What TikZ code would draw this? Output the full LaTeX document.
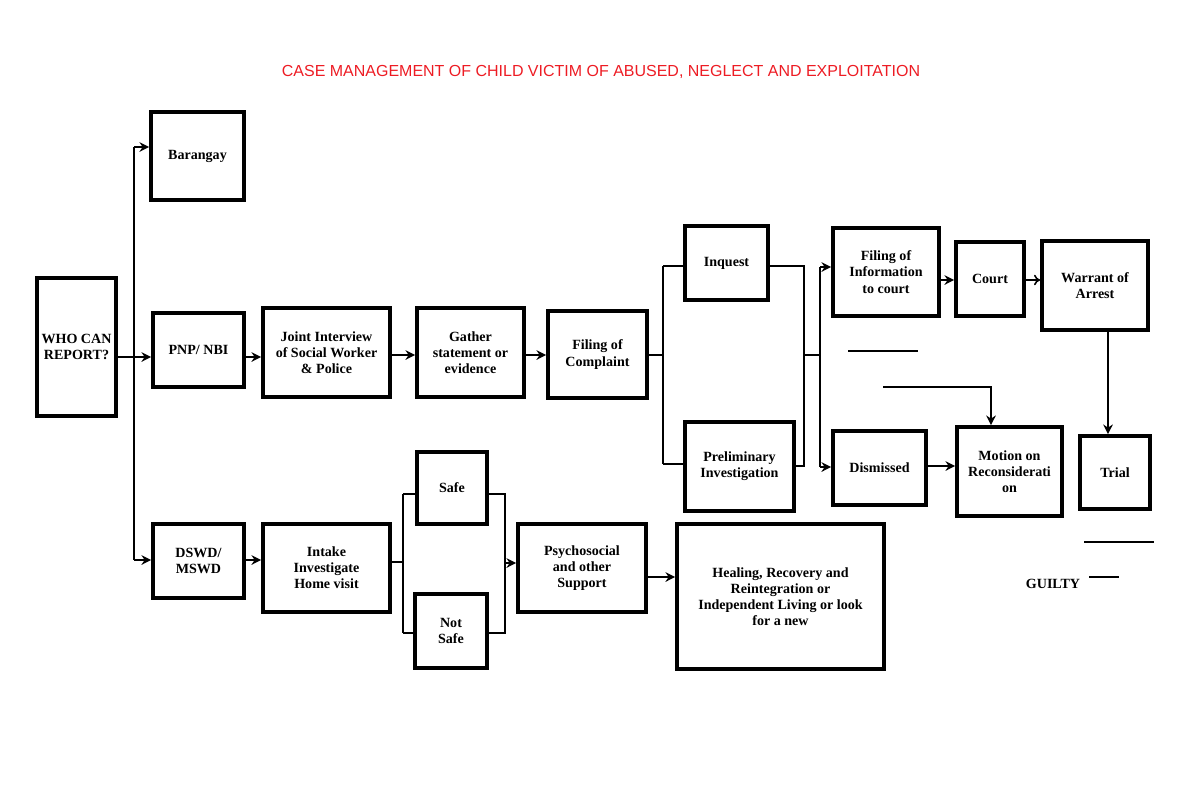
\documentclass[tikz,border=0pt]{standalone}
\usepackage{fontspec}
\setmainfont{Liberation Serif}
\newfontfamily\titlefont{Liberation Sans}
\usetikzlibrary{arrows.meta}
\definecolor{titlered}{RGB}{237,28,36}
\tikzset{
  x=0.02cm, y=-0.02cm,
  box/.style={draw, line width=2.1pt, inner sep=0pt, align=center,
    font=\fontsize{8}{9.2}\selectfont\bfseries},
  conn/.style={line width=1.5pt},
  arr/.style={conn, -{Stealth[length=5.5pt,width=5.5pt]}},
  thinarr/.style={line width=0.9pt, -{To[length=3.5pt,width=6pt]}}
}
\newcommand\bx[6]{\node[box, minimum width={(#4-#2)*0.02cm}, minimum height={(#5-#3)*0.02cm}] (#1) at ({(#2+#4)/2},{(#3+#5)/2}) {#6};}
\begin{document}
\begin{tikzpicture}
\useasboundingbox (0,0) rectangle (1200,785);
\node[font=\titlefont\fontsize{9.1}{10}\selectfont, text=titlered] (title) at (601,72) {CASE MANAGEMENT OF CHILD VICTIM OF ABUSED, NEGLECT AND EXPLOITATION};

\bx{who}{37}{278}{116}{416}{WHO CAN\\REPORT?}
\bx{bar}{151}{112}{244}{200}{Barangay}
\bx{pnp}{153}{313}{244}{387}{PNP/ NBI}
\bx{joint}{263}{308}{390}{397}{Joint Interview\\of Social Worker\\\& Police}
\bx{gath}{417}{308}{524}{397}{Gather\\statement or\\evidence}
\bx{fc}{548}{311}{647}{398}{Filing of\\Complaint}
\bx{inq}{685}{226}{768}{300}{Inquest}
\bx{prel}{685}{422}{794}{511}{Preliminary\\Investigation}
\bx{fi}{833}{228}{939}{316}{Filing of\\Information\\to court}
\bx{court}{956}{242}{1024}{316}{Court}
\bx{war}{1042}{241}{1148}{330}{Warrant of\\Arrest}
\bx{dis}{833}{431}{926}{505}{Dismissed}
\bx{mot}{957}{427}{1062}{516}{Motion on\\Reconsiderati\\on}
\bx{trial}{1080}{436}{1150}{509}{Trial}
\bx{dswd}{153}{524}{244}{598}{DSWD/\\MSWD}
\bx{intk}{263}{524}{390}{612}{Intake\\Investigate\\Home visit}
\bx{safe}{417}{452}{487}{524}{Safe}
\bx{nsafe}{415}{594}{487}{668}{Not\\Safe}
\bx{psy}{518}{524}{646}{612}{Psychosocial\\and other\\Support}
\bx{heal}{677}{524}{884}{669}{Healing, Recovery and\\Reintegration or\\Independent Living or look\\for a new}

% trunk from WHO CAN REPORT
\coordinate (tr) at (134,357);
\coordinate (tb) at (134,147);
\coordinate (td) at (134,560);
\draw[conn] (who.east |- tr) -- (tr);
\draw[conn] (tb) -- (td);
\draw[arr] (tb) -- (tb -| bar.west);
\draw[arr] (tr) -- (tr -| pnp.west);
\draw[arr] (td) -- (td -| dswd.west);

% police line
\coordinate (m1) at (0,357);
\coordinate (m2) at (0,355);
\draw[arr] (pnp.east |- m1) -- (joint.west |- m1);
\draw[arr] (joint.east |- m2) -- (gath.west |- m2);
\draw[arr] (gath.east |- m2) -- (fc.west |- m2);

% split to inquest / preliminary
\coordinate (s0) at (663,355);
\coordinate (s1) at (663,266);
\coordinate (s2) at (663,464);
\draw[conn] (fc.east |- s0) -- (s0);
\draw[conn] (s1) -- (s2);
\draw[conn] (s1) -- (s1 -| inq.west);
\draw[conn] (s2) -- (s2 -| prel.west);

% merge
\coordinate (r1) at (804,266);
\coordinate (r2) at (804,466);
\coordinate (r0) at (804,355);
\draw[conn] (inq.east |- r1) -- (r1) -- (r2) -- (prel.east |- r2);
\coordinate (q0) at (820,355);
\coordinate (q1) at (820,267);
\coordinate (q2) at (820,467);
\draw[conn] (r0) -- (q0);
\draw[conn] (q1) -- (q2);
\draw[arr] (q1) -- (q1 -| fi.west);
\draw[arr] (q2) -- (q2 -| dis.west);

% court line
\coordinate (c0) at (0,280);
\draw[arr] (fi.east |- c0) -- (court.west |- c0);
\draw[thinarr] (court.east |- c0) -- (war.west |- c0);
\coordinate (tv) at (1108,0);
\draw[arr] (war.south -| tv) -- (trial.north -| tv);

% dismissed / motion
\coordinate (d0) at (0,466);
\draw[arr] (dis.east |- d0) -- (mot.west |- d0);
\coordinate (k1) at (883,387);
\coordinate (k2) at (991,387);
\draw[arr] (k1) -- (k2) -- (k2 |- mot.north);

% stray lines
\coordinate (z1) at (848,351);
\coordinate (z2) at (918,351);
\draw[conn] (z1) -- (z2);
\coordinate (z3) at (1084,542);
\coordinate (z4) at (1154,542);
\draw[conn] (z3) -- (z4);
\coordinate (z5) at (1089,577);
\coordinate (z6) at (1119,577);
\draw[conn] (z5) -- (z6);
\node[font=\fontsize{8}{9.2}\selectfont\bfseries] (guilty) at (1053,584) {GUILTY};

% DSWD line
\coordinate (w0) at (0,560);
\draw[arr] (dswd.east |- w0) -- (intk.west |- w0);
\coordinate (v0) at (403,562);
\coordinate (v1) at (403,494);
\coordinate (v2) at (403,633);
\draw[conn] (intk.east |- v0) -- (v0);
\draw[conn] (v1) -- (v2);
\draw[conn] (v1) -- (v1 -| safe.west);
\draw[conn] (v2) -- (v2 -| nsafe.west);
\coordinate (u1) at (505,494);
\coordinate (u2) at (505,633);
\coordinate (u0) at (505,563);
\draw[conn] (safe.east |- u1) -- (u1) -- (u2) -- (nsafe.east |- u2);
\draw[arr] (u0) -- (u0 -| psy.west);
\coordinate (p0) at (0,577);
\draw[arr] (psy.east |- p0) -- (heal.west |- p0);
\end{tikzpicture}
\end{document}
